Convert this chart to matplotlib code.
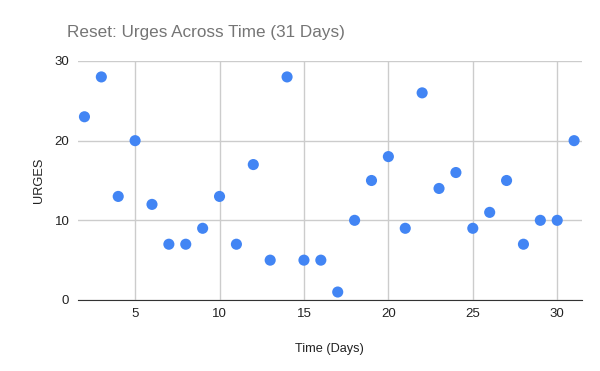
import matplotlib
matplotlib.use("Agg")
from matplotlib import pyplot as plt

days = list(range(2, 32))
urges = [23, 28, 13, 20, 12, 7, 7, 9, 13, 7, 17, 5, 28, 5, 5, 1, 10, 15, 18, 9,
         26, 14, 16, 9, 11, 15, 7, 10, 10, 20]
x_ticks = [5, 10, 15, 20, 25, 30]
y_ticks = [0, 10, 20, 30]

plt.rcParams['font.family'] = ['Liberation Sans', 'DejaVu Sans']

fig = plt.figure(figsize=(6, 3.71), dpi=100)
ax = fig.add_axes([0.1295, 0.1914, 0.84, 0.6442])

ax.scatter(days, urges, s=64, color='#4285f4', edgecolors='none', zorder=3)

ax.set_xlim(1.6, 31.45)
ax.set_ylim(0, 30)
ax.set_xticks(x_ticks)
ax.set_yticks(y_ticks)
ax.grid(True, color='#cccccc', linewidth=1)
for s in ['top', 'right', 'left']:
    ax.spines[s].set_visible(False)
ax.spines['bottom'].set_color('#333333')
ax.spines['bottom'].set_zorder(4)
ax.tick_params(length=0, labelsize=9.5, colors='#222222', pad=6)

ax.set_xlabel('Time (Days)', fontsize=9.2, color='#222222', labelpad=16)
ax.set_ylabel('URGES', fontsize=9.2, color='#222222', labelpad=7)
fig.text(0.112, 0.912, 'Reset: Urges Across Time (31 Days)', fontsize=12.3,
         color='#757575', va='center')

fig.savefig('out.png', dpi=100, facecolor='white')
